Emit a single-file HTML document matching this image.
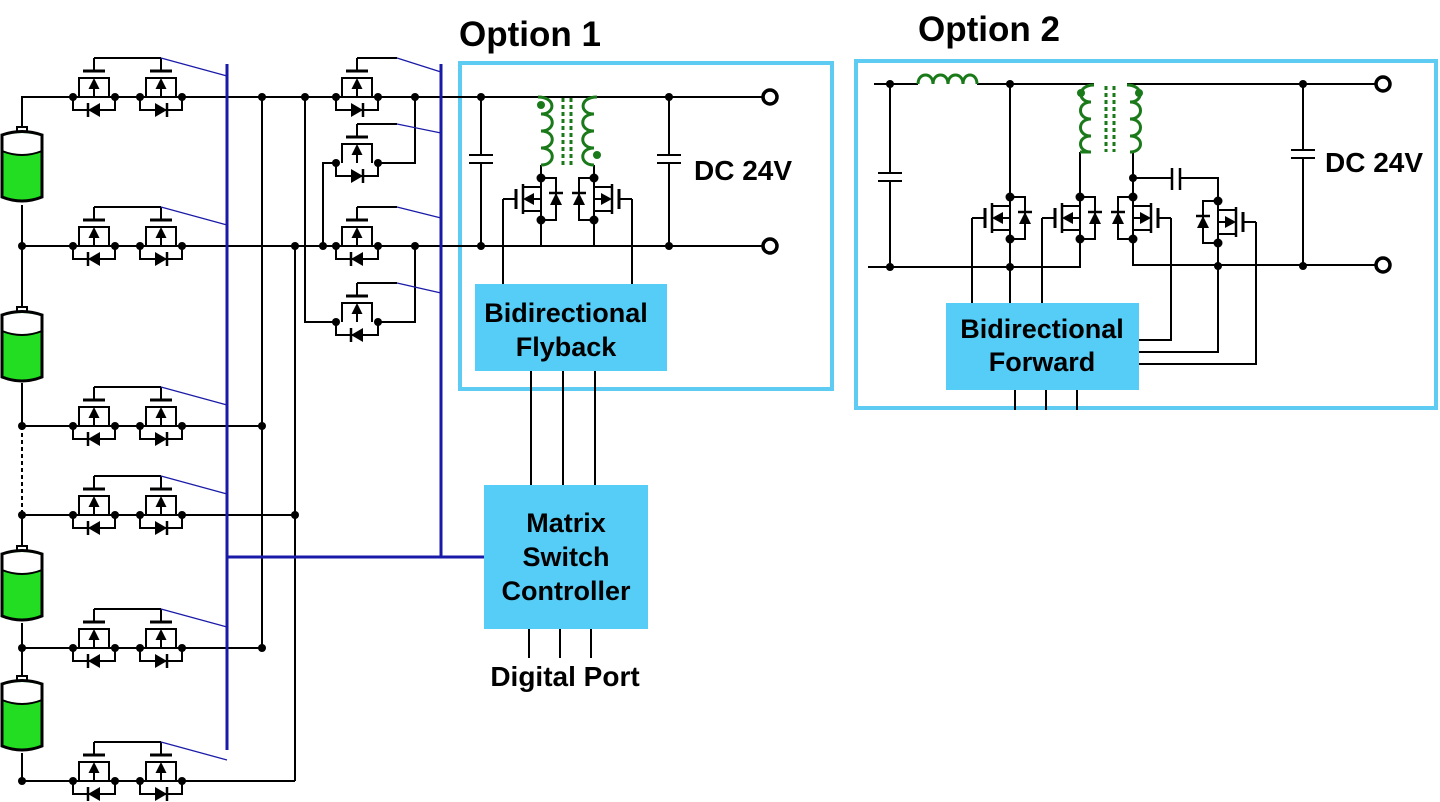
<!DOCTYPE html>
<html><head><meta charset="utf-8">
<style>
html,body{margin:0;padding:0;background:#fff;}
svg{display:block;}
text{font-family:"Liberation Sans",Arial,sans-serif;font-weight:bold;fill:#000;}
</style></head>
<body>
<svg width="1440" height="802" viewBox="0 0 1440 802" xmlns="http://www.w3.org/2000/svg">
<defs>
  <g id="mL" fill="none" stroke="#000">
    <path d="M-16,-19H16" stroke-width="2"/>
    <path d="M-11,-26H11" stroke-width="3"/>
    <path d="M-15,-19V0M15,-19V0M0,-26V-39M0,-8V0" stroke-width="2"/>
    <polygon points="0,-19 -5.5,-8 5.5,-8" fill="#000" stroke="none"/>
    <path d="M-21,0V13H21V0" stroke-width="2"/>
    <polygon points="-6,13 6,6 6,20" fill="#000" stroke="none"/>
    <path d="M-6,6V20" stroke-width="2.5"/>
    <circle cx="-21" cy="0" r="4" fill="#000" stroke="none"/>
    <circle cx="21" cy="0" r="4" fill="#000" stroke="none"/>
  </g>
  <g id="mR" fill="none" stroke="#000">
    <path d="M-16,-19H16" stroke-width="2"/>
    <path d="M-11,-26H11" stroke-width="3"/>
    <path d="M-15,-19V0M15,-19V0M0,-26V-39M0,-8V0" stroke-width="2"/>
    <polygon points="0,-19 -5.5,-8 5.5,-8" fill="#000" stroke="none"/>
    <path d="M-21,0V13H21V0" stroke-width="2"/>
    <polygon points="6,13 -6,6 -6,20" fill="#000" stroke="none"/>
    <path d="M6,6V20" stroke-width="2.5"/>
    <circle cx="-21" cy="0" r="4" fill="#000" stroke="none"/>
    <circle cx="21" cy="0" r="4" fill="#000" stroke="none"/>
  </g>
  <g id="pair">
    <use href="#mL" x="94" y="0"/>
    <use href="#mR" x="161" y="0"/>
    <path d="M94,-39H161" stroke="#000" stroke-width="2" fill="none"/>
    <path d="M161,-39L227,-21" stroke="#1a1aa8" stroke-width="1.2" fill="none"/>
  </g>
  <g id="vm" fill="none" stroke="#000">
    <path d="M0,0V42M-18,9H0M-18,33H0" stroke-width="2"/>
    <path d="M-18,6V36" stroke-width="2.5"/>
    <path d="M-25,11V31" stroke-width="3"/>
    <path d="M-25,21H-38" stroke-width="2"/>
    <path d="M0,21H-8" stroke-width="2"/>
    <polygon points="-18,21 -7,15 -7,27" fill="#000" stroke="none"/>
    <path d="M0,0H15V42H0" stroke-width="2"/>
    <polygon points="15,15 9,27 21,27" fill="#000" stroke="none"/>
    <path d="M8,15H22" stroke-width="2.5"/>
    <circle cx="0" cy="0" r="4.5" fill="#000" stroke="none"/>
    <circle cx="0" cy="42" r="4.5" fill="#000" stroke="none"/>
  </g>
  <g id="bat">
    <rect x="17" y="-4" width="10" height="7" fill="#fff" stroke="#000" stroke-width="2"/>
    <path d="M2,4 Q22,-3 42,4 V66 Q22,74 2,66 Z" fill="#22dd22" stroke="none"/>
    <path d="M3,5 Q22,-1 41,5 V20 Q22,28 3,20 Z" fill="#fff" stroke="none"/>
    <path d="M2,20 Q22,28 42,20" fill="none" stroke="#000" stroke-width="2"/>
    <path d="M2,4 Q22,-3 42,4 V66 Q22,74 2,66 Z" fill="none" stroke="#000" stroke-width="3"/>
  </g>
</defs>

<text x="459" y="46" font-size="35">Option 1</text>
<text x="918" y="41" font-size="35">Option 2</text>

<rect x="460" y="63" width="372" height="326" fill="none" stroke="#5ecbf2" stroke-width="4"/>
<rect x="856" y="61" width="580" height="347" fill="none" stroke="#5ecbf2" stroke-width="4"/>

<g stroke="#000" stroke-width="2" fill="none">
  <path d="M73,97H22V128"/>
  <path d="M22,205V308"/>
  <path d="M22,383V426"/>
  <path d="M22,426V515" stroke-dasharray="4,3"/>
  <path d="M22,515V547"/>
  <path d="M22,623V677"/>
  <path d="M22,753V781"/>
  <path d="M22,97H762"/>
  <path d="M22,246H762"/>
  <path d="M22,426H262"/>
  <path d="M22,515H295"/>
  <path d="M22,648H262"/>
  <path d="M22,781H295"/>
  <path d="M262,97V648"/>
  <path d="M295,246V781"/>
  <path d="M305,97V322H336"/>
  <path d="M323,246V163H336"/>
  <path d="M378,163H415V97"/>
  <path d="M378,322H415V246"/>
</g>
<g fill="#000">
  <circle cx="22" cy="246" r="4"/><circle cx="22" cy="426" r="4"/><circle cx="22" cy="515" r="4"/>
  <circle cx="22" cy="648" r="4"/><circle cx="22" cy="781" r="4"/>
  <circle cx="262" cy="97" r="4"/><circle cx="262" cy="426" r="4"/><circle cx="262" cy="648" r="4"/>
  <circle cx="295" cy="246" r="4"/><circle cx="295" cy="515" r="4"/>
  <circle cx="305" cy="97" r="4"/><circle cx="323" cy="246" r="4"/>
  <circle cx="415" cy="97" r="4"/><circle cx="415" cy="246" r="4"/>
</g>

<use href="#bat" x="0" y="131"/>
<use href="#bat" x="0" y="311"/>
<use href="#bat" x="0" y="550"/>
<use href="#bat" x="0" y="680"/>

<use href="#pair" x="0" y="97"/>
<use href="#pair" x="0" y="246"/>
<use href="#pair" x="0" y="426"/>
<use href="#pair" x="0" y="515"/>
<use href="#pair" x="0" y="648"/>
<use href="#pair" x="0" y="781"/>

<use href="#mR" x="357" y="97"/>
<use href="#mR" x="357" y="163"/>
<use href="#mL" x="357" y="246"/>
<use href="#mL" x="357" y="322"/>
<g stroke="#000" stroke-width="2" fill="none">
  <path d="M357,58H397"/><path d="M357,124H397"/><path d="M357,207H397"/><path d="M357,283H397"/>
</g>
<g stroke="#1a1aa8" stroke-width="1.2" fill="none">
  <path d="M397,58L441,72"/><path d="M397,124L441,133"/><path d="M397,207L441,218"/><path d="M397,283L441,293"/>
</g>

<g stroke="#1a1aa8" stroke-width="3" fill="none">
  <path d="M227,64V750"/>
  <path d="M441,64V557"/>
  <path d="M227,557H484"/>
</g>

<!-- OPTION 1 -->
<g stroke="#000" stroke-width="2" fill="none">
  <path d="M481,97V155M469,155H493M469,163H493M481,163V246"/>
  <path d="M669,97V155M657,155H681M657,163H681M669,163V246"/>
  <path d="M541,165V178M594,165V178"/>
  <path d="M541,220V246M594,220V246"/>
  <path d="M503,199V285M632,199V285"/>
  <path d="M531,371V485M563,371V485M595,371V485"/>
  <path d="M529,629V658M560,629V658M591,629V658"/>
</g>
<circle cx="481" cy="97" r="4" fill="#000"/><circle cx="481" cy="246" r="4" fill="#000"/>
<circle cx="669" cy="97" r="4" fill="#000"/><circle cx="669" cy="246" r="4" fill="#000"/>
<circle cx="770" cy="97" r="7" fill="#fff" stroke="#000" stroke-width="3.5"/>
<circle cx="770" cy="246" r="7" fill="#fff" stroke="#000" stroke-width="3.5"/>
<g stroke="#1a7a1a" stroke-width="3" fill="none">
  <path d="M538,97 C556,97 556,114 541,114 C556,114 556,131 541,131 C556,131 556,148 541,148 C556,148 556,165 541,165"/>
  <path d="M597,97 C579,97 579,114 594,114 C579,114 579,131 594,131 C579,131 579,148 594,148 C579,148 579,165 594,165"/>
  <path d="M563,98V165M571,98V165" stroke-dasharray="4,3"/>
</g>
<circle cx="541" cy="105" r="4" fill="#1a7a1a"/>
<circle cx="597" cy="155" r="4" fill="#1a7a1a"/>
<use href="#vm" x="541" y="178"/>
<use href="#vm" transform="translate(594,178) scale(-1,1)"/>
<text x="694" y="180" font-size="28">DC 24V</text>
<rect x="475" y="284" width="192" height="87" fill="#55cdf6"/>
<text x="566" y="322" font-size="27" text-anchor="middle">Bidirectional</text>
<text x="566" y="356" font-size="27" text-anchor="middle">Flyback</text>
<rect x="484" y="485" width="164" height="144" fill="#55cdf6"/>
<text x="566" y="532" font-size="27" text-anchor="middle">Matrix</text>
<text x="566" y="566" font-size="27" text-anchor="middle">Switch</text>
<text x="566" y="600" font-size="27" text-anchor="middle">Controller</text>
<text x="565" y="686" font-size="28" text-anchor="middle">Digital Port</text>

<!-- OPTION 2 -->
<g stroke="#000" stroke-width="2" fill="none">
  <path d="M874,84H918M977,84H1094M1127,84H1375"/>
  <path d="M868,267H1080V239"/>
  <path d="M1133,239V265H1375"/>
  <path d="M890,84V173M878,173H902M878,181H902M890,181V267"/>
  <path d="M1303,84V150M1291,150H1315M1291,158H1315M1303,158V266"/>
  <path d="M1010,84V197M1010,239V303"/>
  <path d="M1080,152V197M1133,152V197"/>
  <path d="M1133,178H1172M1180,178H1218V201"/>
  <path d="M1172,168V190M1180,168V190" stroke-width="2.5"/>
  <path d="M1218,243V352H1139"/>
  <path d="M972,218V303M1042,218V303"/>
  <path d="M1171,218V340H1139"/>
  <path d="M1256,222V364H1139"/>
  <path d="M1015,390V410M1046,390V410M1077,390V410"/>
</g>
<g fill="#000">
  <circle cx="890" cy="84" r="4"/><circle cx="890" cy="267" r="4"/>
  <circle cx="1010" cy="84" r="4"/><circle cx="1010" cy="267" r="4"/>
  <circle cx="1133" cy="178" r="4"/><circle cx="1218" cy="266" r="4"/>
  <circle cx="1303" cy="84" r="4"/><circle cx="1303" cy="266" r="4"/>
</g>
<circle cx="1383" cy="84" r="7" fill="#fff" stroke="#000" stroke-width="3.5"/>
<circle cx="1383" cy="265" r="7" fill="#fff" stroke="#000" stroke-width="3.5"/>
<path d="M918,84 C918,72 933,72 933,84 C933,72 948,72 948,84 C948,72 963,72 963,84 C963,72 977,72 977,84" stroke="#1a7a1a" stroke-width="3" fill="none"/>
<g stroke="#1a7a1a" stroke-width="3" fill="none">
  <path d="M1094,85 C1077,85 1077,102 1091,102 C1077,102 1077,119 1091,119 C1077,119 1077,136 1091,136 C1077,136 1077,152 1091,152 H1080"/>
  <path d="M1127,85 C1144,85 1144,102 1130,102 C1144,102 1144,119 1130,119 C1144,119 1144,136 1130,136 C1144,136 1144,152 1130,152 H1133"/>
  <path d="M1106,86V152M1114,86V152" stroke-dasharray="4,3"/>
</g>
<circle cx="1081" cy="93" r="4" fill="#1a7a1a"/>
<circle cx="1139" cy="93" r="4" fill="#1a7a1a"/>
<use href="#vm" x="1010" y="197"/>
<use href="#vm" x="1080" y="197"/>
<use href="#vm" transform="translate(1133,197) scale(-1,1)"/>
<use href="#vm" transform="translate(1218,201) scale(-1,1)"/>
<text x="1325" y="172" font-size="28">DC 24V</text>
<rect x="946" y="303" width="193" height="87" fill="#55cdf6"/>
<text x="1042" y="338" font-size="27" text-anchor="middle">Bidirectional</text>
<text x="1042" y="371" font-size="27" text-anchor="middle">Forward</text>
</svg>
</body></html>
